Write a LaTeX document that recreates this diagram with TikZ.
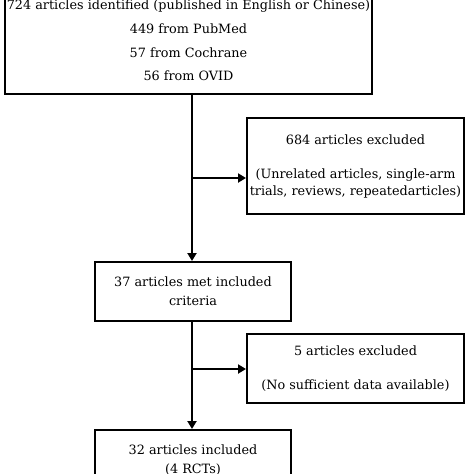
\documentclass[tikz,border=0pt]{standalone}
\usepackage{fontspec}
\setmainfont{DejaVu Serif}
\usetikzlibrary{arrows.meta}
\begin{document}
\begin{tikzpicture}[x=1pt,y=-1pt,
  box/.style={draw=black,line width=2pt,align=center,inner sep=0pt,font=\fontsize{12.8}{17}\selectfont},
  conn/.style={line width=2pt,draw=black},
  arr/.style={conn,-{Triangle[length=8pt,width=9pt]}}]
\useasboundingbox (0,0) rectangle (474,474);
\node[box,minimum width=367pt,minimum height=107pt,font=\fontsize{12.8}{23.7}\selectfont] (b1) at (188.5,40.5)
  {724 articles identified (published in English or Chinese)\\449 from PubMed\\57 from Cochrane\\56 from OVID};
\node[box,minimum width=217pt,minimum height=96pt] (b2) at (355.5,166)
  {684 articles excluded\\[17pt](Unrelated articles, single-arm\\trials, reviews, repeatedarticles)};
\node[box,minimum width=196pt,minimum height=59pt,font=\fontsize{12.8}{19}\selectfont] (b3) at (193,291.5)
  {37 articles met included\\criteria};
\node[box,minimum width=217pt,minimum height=69pt,font=\fontsize{12.8}{34}\selectfont] (b4) at (355.5,368.5)
  {5 articles excluded\\(No sufficient data available)};
\node[box,minimum width=196pt,minimum height=60pt,font=\fontsize{12.8}{19}\selectfont] (b5) at (193,460)
  {32 articles included\\(4 RCTs)};
\coordinate (j1) at (192,178);
\coordinate (j2) at (192,369);
\draw[arr] (b1.south -| j1) -- (b3.north -| j1);
\draw[arr] (j1) -- (b2.west |- j1);
\draw[arr] (b3.south -| j2) -- (b5.north -| j2);
\draw[arr] (j2) -- (b4.west |- j2);
\end{tikzpicture}
\end{document}
